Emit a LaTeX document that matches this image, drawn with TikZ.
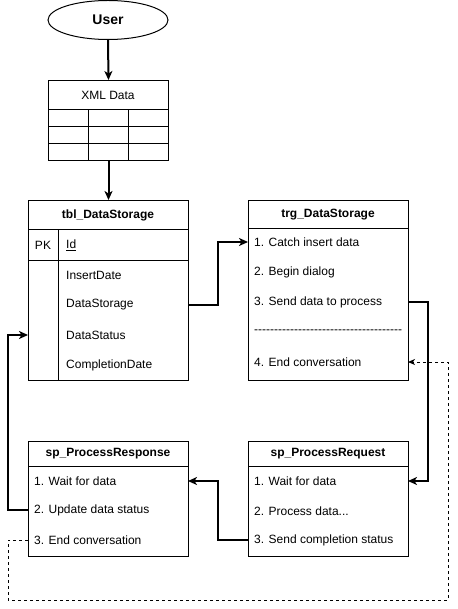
\documentclass[tikz,border=0pt]{standalone}
\usepackage{fontspec}
\setmainfont{Liberation Sans}
\newfontfamily\plainfont{Liberation Sans}
\usetikzlibrary{arrows.meta,calc,shapes.geometric}
\tikzset{
  box/.style={draw=black, line width=1pt, fill=white, inner sep=0pt, anchor=north west},
  lbl/.style={anchor=west, inner sep=0pt, font=\fontsize{12}{14}\selectfont},
  hdr/.style={inner sep=0pt, font=\fontsize{12}{14}\selectfont\bfseries},
  conn/.style={line width=2pt, -{Stealth[length=9pt,width=8pt,inset=2.5pt]}},
  dconn/.style={line width=1pt, dashed, dash pattern=on 3pt off 3pt, -{Stealth[length=7pt,width=6pt,inset=2pt]}},
  pln/.style={line width=1pt}
}
\begin{document}
\begin{tikzpicture}[x=1pt,y=-1pt]
\useasboundingbox (0,0) rectangle (457,609);
% User
\node[draw, line width=1pt, ellipse, minimum width=120pt, minimum height=39pt, inner sep=0pt, font=\fontsize{14}{16}\selectfont\bfseries] (user) at (108,20) {User};
% XML Data
\node[box, minimum width=120pt, minimum height=80pt] (xml) at (48,80) {};
\draw[pln] (48,110) -- (168,110);
\draw[pln] (48,127) -- (168,127);
\draw[pln] (48,144) -- (168,144);
\draw[pln] (88,110) -- (88,160);
\draw[pln] (128,110) -- (128,160);
\node[inner sep=0pt, font=\fontsize{12}{14}\selectfont] (xmlt) at (108,95) {XML Data};
% tbl_DataStorage
\node[box, minimum width=160pt, minimum height=180pt] (tbl) at (28,200) {};
\draw[pln] (28,230) -- (188,230);
\draw[pln] (28,260) -- (188,260);
\draw[pln] (58,230) -- (58,380);
\node[hdr] (tblh) at (108,215) {tbl\_DataStorage};
\node[lbl, anchor=center] (pk) at (43,245) {PK};
\node[lbl] (id) at (66,245) {\underline{Id}};
\node[lbl] (t1) at (66,275) {InsertDate};
\node[lbl] (t2) at (66,305) {DataStorage};
\node[lbl] (t3) at (66,335) {DataStatus};
\node[lbl] (t4) at (66,365) {CompletionDate};
\coordinate (tblR) at (188,305);
\coordinate (tblL) at (28,335);
% trg_DataStorage
\node[box, minimum width=160pt, minimum height=180pt] (trg) at (248,200) {};
\draw[pln] (248,229) -- (408,229);
\node[hdr] (trgh) at (328,215) {trg\_DataStorage};
\node[lbl] (g1) at (254,242) {1. Catch insert data};
\node[lbl] (g2) at (254,272) {2. Begin dialog};
\node[lbl] (g3) at (254,302) {3. Send data to process};
\node[lbl, font=\plainfont\fontsize{12}{14}\selectfont] (gd) at (254,332) {-------------------------------------};
\node[lbl] (g4) at (254,362) {4. End conversation};
\coordinate (trgIn) at (248,242);
\coordinate (trgOut) at (408,302);
\coordinate (trgEnd) at (408,362);
% sp_ProcessResponse
\node[box, minimum width=160pt, minimum height=115pt] (resp) at (28,441) {};
\draw[pln] (28,466) -- (188,466);
\node[hdr] (resph) at (108,453.5) {sp\_ProcessResponse};
\node[lbl] (r1) at (34,481) {1. Wait for data};
\node[lbl] (r2) at (34,510) {2. Update data status};
\node[lbl] (r3) at (34,540) {3. End conversation};
\coordinate (respIn) at (188,481);
\coordinate (respUpd) at (28,510);
\coordinate (respEnd) at (28,540);
% sp_ProcessRequest
\node[box, minimum width=160pt, minimum height=115pt] (req) at (248,441) {};
\draw[pln] (248,466) -- (408,466);
\node[hdr] (reqh) at (328,453.5) {sp\_ProcessRequest};
\node[lbl] (q1) at (254,481) {1. Wait for data};
\node[lbl] (q2) at (254,511) {2. Process data...};
\node[lbl] (q3) at (254,540) {3. Send completion status};
\coordinate (reqIn) at (408,481);
\coordinate (reqOut) at (248,540);
% connectors
\draw[conn] (user.south) -- (xml.north);
\draw[conn] (xml.south) -- (tbl.north);
\draw[conn] (tblR) -- (218,305) -- (218,242) -- (trgIn);
\draw[conn] (trgOut) -- (428,302) -- (428,481) -- (reqIn);
\draw[conn] (reqOut) -- (218,540) -- (218,481) -- (respIn);
\draw[conn] (respUpd) -- (8,510) -- (8,335) -- (tblL);
\draw[dconn] (respEnd) -- (8,540) -- (8,600) -- (448,600) -- (448,362) -- (trgEnd);
\end{tikzpicture}
\end{document}
